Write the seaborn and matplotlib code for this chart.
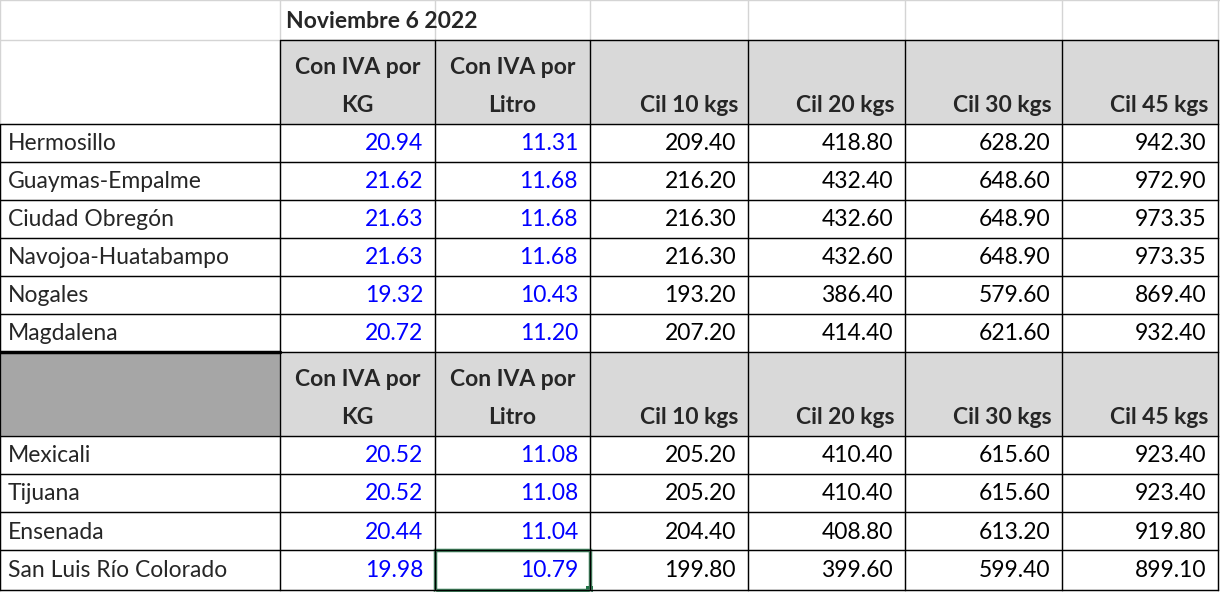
import matplotlib
matplotlib.use("Agg")
import matplotlib.pyplot as plt
import seaborn as sns
from matplotlib.patches import Rectangle

sns.set_style("white")
plt.rcParams['font.family'] = ['Lato', 'DejaVu Sans']

title = "Noviembre 6 2022"
headers = ["Con IVA por\nKG", "Con IVA por\nLitro", "Cil 10 kgs", "Cil 20 kgs", "Cil 30 kgs", "Cil 45 kgs"]
cities_a = ["Hermosillo", "Guaymas-Empalme", "Ciudad Obregón", "Navojoa-Huatabampo", "Nogales", "Magdalena"]
kg_a = [20.94, 21.62, 21.63, 21.63, 19.32, 20.72]
litro_a = [11.31, 11.68, 11.68, 11.68, 10.43, 11.20]
cil10_a = [209.40, 216.20, 216.30, 216.30, 193.20, 207.20]
cil20_a = [418.80, 432.40, 432.60, 432.60, 386.40, 414.40]
cil30_a = [628.20, 648.60, 648.90, 648.90, 579.60, 621.60]
cil45_a = [942.30, 972.90, 973.35, 973.35, 869.40, 932.40]
cities_b = ["Mexicali", "Tijuana", "Ensenada", "San Luis Río Colorado"]
kg_b = [20.52, 20.52, 20.44, 19.98]
litro_b = [11.08, 11.08, 11.04, 10.79]
cil10_b = [205.20, 205.20, 204.40, 199.80]
cil20_b = [410.40, 410.40, 408.80, 399.60]
cil30_b = [615.60, 615.60, 613.20, 599.40]
cil45_b = [923.40, 923.40, 919.80, 899.10]

cols = [0, 280, 435, 590, 748, 905, 1062, 1218]
fs = 16.5

fig = plt.figure(figsize=(12.2, 5.92), dpi=100)
ax = fig.add_axes([0, 0, 1, 1])
ax.set_xlim(0, 1220)
ax.set_ylim(592, 0)
ax.axis("off")

def header_block(y0, y1, dark_first):
    if dark_first:
        ax.add_patch(Rectangle((cols[0], y0), cols[1] - cols[0], y1 - y0, color="#a6a6a6", lw=0))
    ax.add_patch(Rectangle((cols[1], y0), cols[7] - cols[1], y1 - y0, color="#d9d9d9", lw=0))
    for i, h in enumerate(headers):
        xl, xr = cols[i + 1], cols[i + 2]
        if "\n" in h:
            l1, l2 = h.split("\n")
            ax.text((xl + xr) / 2, y0 + (y1 - y0) * 0.33, l1, ha="center", va="center", fontsize=fs, fontweight="bold")
            ax.text((xl + xr) / 2, y0 + (y1 - y0) * 0.78, l2, ha="center", va="center", fontsize=fs, fontweight="bold")
        else:
            ax.text(xr - 10, y0 + (y1 - y0) * 0.78, h, ha="right", va="center", fontsize=fs, fontweight="bold")

def data_block(y0, rh, cities, series):
    for r, city in enumerate(cities):
        yc = y0 + rh * (r + 0.5)
        ax.text(8, yc, city, ha="left", va="center", fontsize=fs)
        for c, s in enumerate(series):
            color = "#0000ff" if c < 2 else "black"
            ax.text(cols[c + 2] - 12, yc, f"{s[r]:.2f}", ha="right", va="center", fontsize=fs, color=color)

# light excel gridlines
rows_all = [0, 40, 124, 162, 200, 238, 276, 314, 352, 436, 474, 512, 550, 590]
for y in rows_all:
    ax.plot([0, 1220], [y, y], color="#d4d4d4", lw=1)
for x in cols:
    ax.plot([x, x], [0, 592], color="#d4d4d4", lw=1)

header_block(40, 124, False)
header_block(352, 436, True)
ax.text(cols[1] + 6, 21, title, ha="left", va="center", fontsize=fs, fontweight="bold")

data_block(124, 38, cities_a, [kg_a, litro_a, cil10_a, cil20_a, cil30_a, cil45_a])
data_block(436, 38.5, cities_b, [kg_b, litro_b, cil10_b, cil20_b, cil30_b, cil45_b])

# black table borders
for y in rows_all[1:]:
    x0 = cols[1] if y in (40,) else 0
    ax.plot([x0, cols[7]], [y, y], color="black", lw=1)
for x in cols[1:]:
    ax.plot([x, x], [40, 590], color="black", lw=1)
ax.plot([0, 0], [124, 590], color="black", lw=1)
ax.plot([0, cols[1]], [352, 352], color="black", lw=2.5)

# selected cell
ax.add_patch(Rectangle((cols[2], 550), cols[3] - cols[2], 40, fill=False, ec="#217346", lw=2.5))
ax.add_patch(Rectangle((cols[3] - 4, 586), 7, 7, color="#217346", lw=0))

fig.savefig("out.png", dpi=100)
